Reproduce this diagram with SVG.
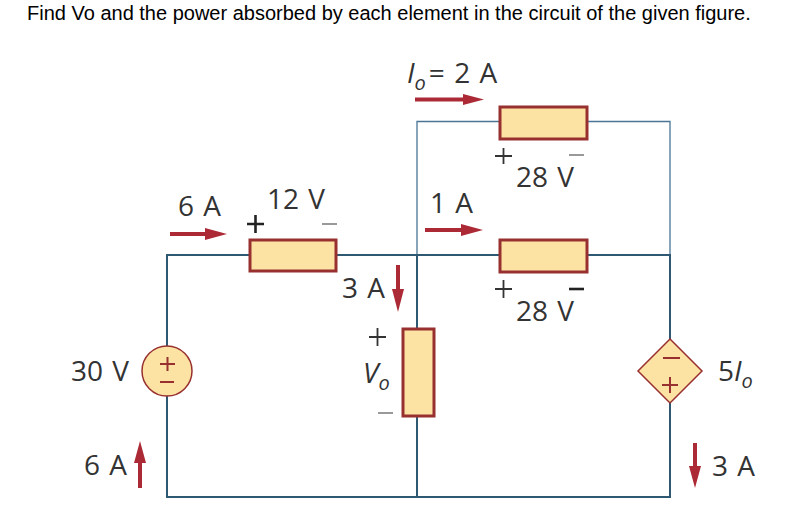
<svg xmlns="http://www.w3.org/2000/svg" width="796" height="519" viewBox="0 0 796 519">
<style>
.w{fill:none;stroke:#2f5873;stroke-width:2}
.t{fill:none;stroke:#4a7596;stroke-width:1.3}
.r{fill:#fde3a3;stroke:#97302f;stroke-width:3}
.s{fill:#fde3a3;stroke:#97302f;stroke-width:1.5}
.a{fill:none;stroke:#ab2a36;stroke-width:4}
.h{fill:#ab2a36}
text{font-family:"Open Sans","Liberation Sans",sans-serif;font-size:28px;word-spacing:2px;fill:#333}
.i{font-style:italic}
.sm{font-size:20px}
.title{font-family:"Liberation Sans",Arial,sans-serif;font-size:20px;word-spacing:0;fill:#000}
.p{stroke:#333;stroke-width:1.8;fill:none}
.b{stroke:#222;stroke-width:2.6;fill:none}
.m{stroke:#777;stroke-width:1.5;fill:none}
.q{stroke:#97302f;stroke-width:2;fill:none}
</style>
<text class="title" x="27" y="20">Find Vo and the power absorbed by each element in the circuit of the given figure.</text>
<g id="connectors">
<path class="t" d="M417 254.500V121.500H670V254.500"/>
<path class="w" d="M167 346V255H670V339M167 396V497H670V403M417 255V329M417 416V497"/>
</g>
<g id="current-arrows">
<path class="a" d="M415 99.500H465"/><path class="h" d="M463 94L484 99.500L463 105Z"/>
<path class="a" d="M425 230H463"/><path class="h" d="M461 224L483 230L461 236Z"/>
<path class="a" d="M170 234H208"/><path class="h" d="M205 228L227 234L205 240Z"/>
<path class="a" d="M398 265V292"/><path class="h" d="M392 289L398 312L404 289Z"/>
<path class="a" d="M140 488V460"/><path class="h" d="M134 463L140 441L146 463Z"/>
<path class="a" d="M695 443V470"/><path class="h" d="M689 466L695 488L701 466Z"/>
</g>
<g id="r-top"><rect class="r" x="500" y="107" width="87" height="32"/>
<path class="p" d="M495 156H512M503.500 148V164"/><path class="m" d="M569 155H584"/>
<text x="516" y="187">28 V</text></g>
<g id="r-mid"><rect class="r" x="500" y="240" width="87" height="32"/>
<path class="p" d="M495 289H512M503.500 280V298"/><path class="b" d="M569 289H584"/>
<text x="516" y="321">28 V</text></g>
<g id="r-12v"><rect class="r" x="250" y="240" width="86" height="31"/>
<path class="b" d="M247 224H264M255.500 215V233"/><path class="m" d="M322 224H337"/>
<text x="267" y="209">12 V</text></g>
<g id="r-vo"><rect class="r" x="403" y="329" width="31" height="87"/>
<path class="p" d="M369 337H386M377.500 328V346"/><path class="m" d="M378 413H393"/>
<text x="363" y="383"><tspan class="i">V</tspan><tspan class="i sm" dy="7">o</tspan></text></g>
<g id="source-30v"><circle class="s" cx="167" cy="371" r="25"/>
<path class="q" d="M160 364H175M167.500 357V371M160 382H174"/>
<text x="71" y="381">30 V</text></g>
<g id="source-dep"><path class="s" d="M670 339L702 371L670 403L638 371Z"/>
<path class="q" d="M663 358H680M662 385H678M670 377V393"/>
<text x="718" y="381">5<tspan class="i">I</tspan><tspan class="i sm" dy="7">o</tspan></text></g>
<g id="labels">
<text x="407" y="83"><tspan class="i">I</tspan><tspan class="i sm" dy="7">o</tspan><tspan dy="-7" dx="3">= 2 A</tspan></text>
<text x="430" y="213">1 A</text>
<text x="178" y="216">6 A</text>
<text x="342" y="298">3 A</text>
<text x="84" y="475">6 A</text>
<text x="712" y="476">3 A</text>
</g>
</svg>
